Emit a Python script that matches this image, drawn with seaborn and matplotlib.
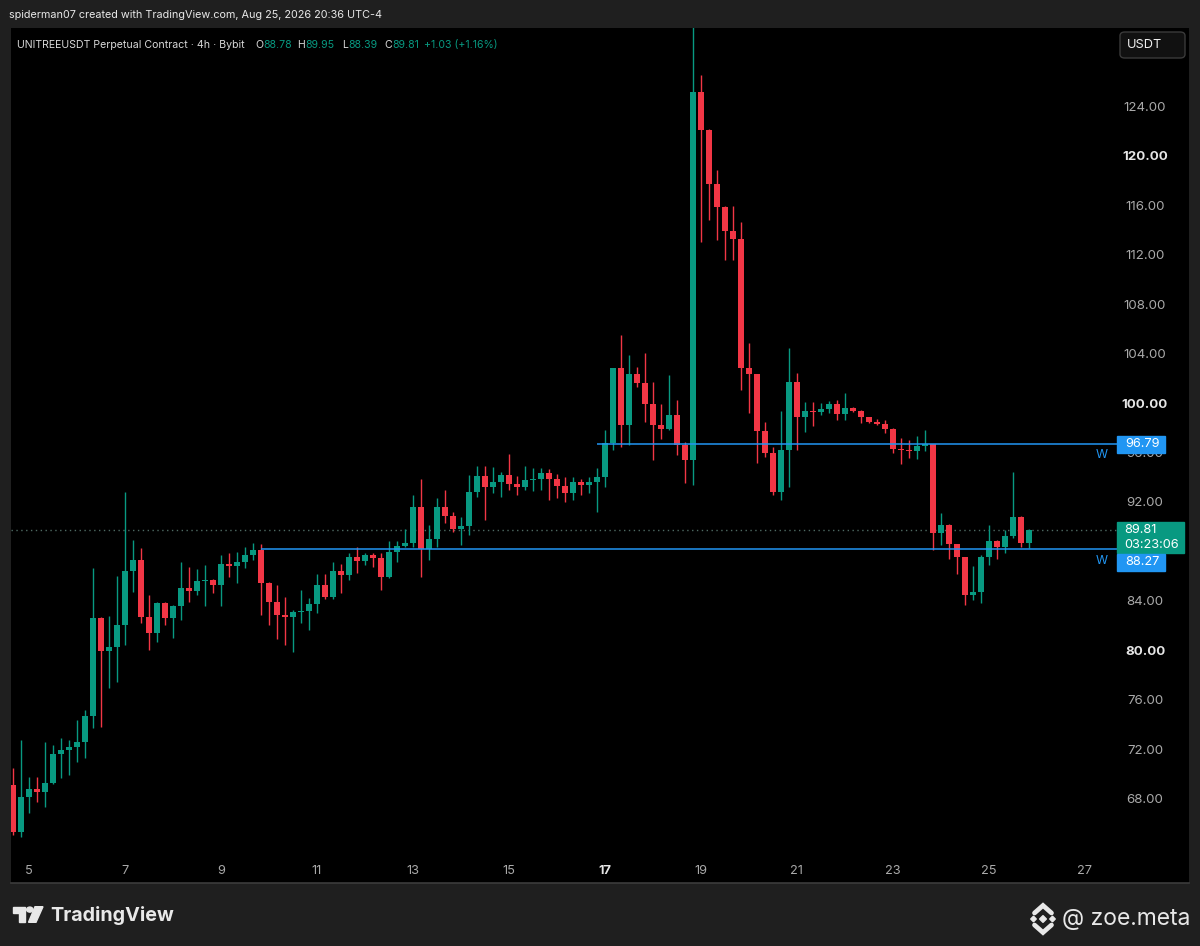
import numpy as np
import pandas as pd
import matplotlib.pyplot as plt
import seaborn as sns
from matplotlib.patches import Rectangle, FancyBboxPatch, Polygon, Circle

# 4h candles of UNITREEUSDT, bar 0 = Aug 5 00:00, first visible bar is Aug 4 16:00
first_bar = -2
opens = [69.2, 65.4, 68.26, 68.86, 68.64, 69.4, 71.72, 72.04, 72.31, 72.67,
         74.8, 82.75, 80.08, 80.35, 82.16, 86.55, 87.42, 82.78, 81.54, 83.96,
         82.7, 83.7, 85.18, 84.94, 85.72, 85.8, 85.37, 87.1, 86.95, 87.28,
         87.82, 88.23, 85.53, 84.05, 82.97, 82.8, 83.24, 83.32, 83.86, 85.4,
         84.45, 86.55, 86.21, 87.69, 87.34, 87.82, 87.55, 86.07, 88.04, 88.58,
         88.77, 91.68, 88.29, 89.1, 91.68, 90.98, 89.95, 90.17, 92.95, 94.22,
         93.3, 93.76, 94.3, 93.57, 93.35, 93.9, 94.0, 94.49, 93.98, 93.43,
         92.82, 93.7, 93.5, 93.76, 94.11, 96.86, 102.93, 98.35, 102.47, 101.77,
         100.04, 98.35, 98.0, 99.15, 96.73, 95.51, 125.32, 122.22, 117.85, 116.01,
         114.07, 113.37, 102.93, 102.47, 97.88, 96.05, 92.95, 96.32, 101.85, 98.97,
         99.5, 99.4, 99.6, 100.04, 99.24, 99.7, 99.5, 98.97, 98.56, 98.4,
         98.0, 96.38, 96.3, 96.2, 96.61, 96.78, 89.63, 90.25, 88.71, 87.64,
         84.59, 84.85, 87.69, 88.98, 88.5, 89.36, 90.93, 88.78]
highs = [70.6, 72.85, 69.88, 69.88, 72.71, 72.45, 72.99, 72.85, 74.47, 75.28,
         86.75, 82.8, 82.89, 86.13, 92.95, 89.04, 88.37, 84.59, 84.0, 84.0,
         83.8, 87.28, 86.88, 86.67, 87.02, 85.85, 87.82, 87.96, 88.1, 88.45,
         88.82, 88.72, 85.6, 85.4, 84.45, 83.4, 85.0, 84.35, 86.29, 86.29,
         87.28, 87.1, 87.96, 88.5, 88.0, 87.96, 87.96, 88.98, 88.98, 89.93,
         92.68, 93.95, 90.25, 92.46, 93.08, 91.33, 90.9, 94.3, 95.03, 95.0,
         94.92, 94.57, 96.0, 94.2, 95.0, 94.84, 94.84, 94.76, 94.38, 94.16,
         94.16, 94.0, 94.1, 94.84, 97.94, 102.95, 105.63, 104.0, 103.07, 104.2,
         101.85, 100.04, 102.39, 100.37, 97.0, 130.6, 126.67, 122.3, 118.98, 116.05,
         116.07, 114.8, 104.96, 102.5, 98.6, 96.6, 99.5, 104.55, 102.53, 100.23,
         100.23, 100.15, 100.3, 100.4, 100.96, 99.8, 99.55, 99.0, 98.8, 98.75,
         98.1, 97.27, 97.12, 97.45, 97.94, 96.8, 91.25, 90.3, 88.75, 87.7,
         86.93, 87.82, 90.25, 89.0, 89.85, 94.57, 90.95, 89.95]
lows = [65.2, 65.0, 66.92, 67.86, 67.46, 69.3, 69.75, 70.02, 71.1, 71.37,
        73.8, 73.93, 77.04, 77.57, 80.54, 84.85, 82.3, 80.14, 80.81, 82.16,
        81.08, 82.56, 84.05, 84.59, 83.7, 84.77, 83.7, 86.02, 85.53, 86.75,
        87.42, 82.97, 82.16, 81.0, 80.54, 80.0, 82.3, 81.75, 83.1, 84.24,
        84.3, 84.72, 85.8, 86.39, 87.0, 86.83, 85.0, 85.93, 87.28, 88.5,
        88.5, 86.07, 87.42, 88.5, 90.4, 89.71, 88.63, 89.44, 92.55, 90.66,
        92.8, 92.55, 93.08, 92.68, 93.08, 93.0, 93.08, 92.28, 92.42, 92.1,
        92.28, 92.68, 92.8, 91.33, 93.35, 96.32, 96.59, 96.7, 101.45, 98.61,
        95.51, 97.19, 97.94, 95.92, 93.63, 93.49, 113.18, 114.94, 113.32, 111.7,
        111.7, 101.18, 99.29, 95.25, 95.78, 92.68, 92.28, 93.35, 96.32, 97.8,
        98.26, 99.15, 99.3, 98.75, 98.75, 99.38, 98.53, 98.5, 98.35, 97.67,
        96.05, 95.19, 95.65, 95.57, 96.2, 88.23, 88.63, 87.48, 86.29, 83.78,
        84.2, 83.92, 86.99, 87.48, 87.96, 89.17, 88.5, 88.39]
closes = [65.4, 68.26, 68.86, 68.64, 69.4, 71.72, 72.04, 72.31, 72.67, 74.8,
          82.75, 80.08, 80.35, 82.16, 86.55, 87.42, 82.78, 81.54, 83.96, 82.7,
          83.7, 85.18, 84.94, 85.72, 85.8, 85.37, 87.1, 86.95, 87.28, 87.82,
          88.23, 85.53, 84.05, 82.97, 82.8, 83.24, 83.32, 83.86, 85.4, 84.45,
          86.55, 86.21, 87.69, 87.34, 87.82, 87.55, 86.07, 88.04, 88.58, 88.77,
          91.68, 88.29, 89.1, 91.68, 90.98, 89.95, 90.17, 92.95, 94.22, 93.3,
          93.76, 94.3, 93.57, 93.35, 93.9, 94.0, 94.49, 93.98, 93.43, 92.82,
          93.7, 93.5, 93.76, 94.11, 96.86, 102.93, 98.35, 102.47, 101.77, 100.04,
          98.35, 98.0, 99.15, 96.73, 95.51, 125.32, 122.22, 117.85, 116.01, 114.07,
          113.37, 102.93, 102.47, 97.88, 96.05, 92.95, 96.32, 101.85, 98.97, 99.5,
          99.4, 99.6, 100.04, 99.24, 99.7, 99.5, 98.97, 98.56, 98.4, 98.0,
          96.38, 96.3, 96.2, 96.61, 96.78, 89.63, 90.25, 88.71, 87.64, 84.59,
          84.85, 87.69, 88.98, 88.5, 89.36, 90.93, 88.78, 89.81]

day_ticks = [5, 7, 9, 11, 13, 15, 17, 19, 21, 23, 25, 27]
# 88.00 sits under the price boxes and is not shown
price_ticks = [68, 72, 76, 80, 84, 92, 96, 100, 104, 108, 112, 116, 120, 124]
bold_prices = [80, 100, 120]

# horizontal "W" levels and the bar they were drawn from
levels = [96.79, 88.27]
level_start = [71, 29]
last_price = 89.81
countdown = "03:23:06"

GREEN = "#089981"
RED = "#f23645"
BLUE = "#2196f3"
BG = "#1f1f1f"

sns.set_theme(style="dark", rc={"axes.facecolor": "black", "figure.facecolor": BG})
plt.rcParams['font.family'] = ['Inter', 'DejaVu Sans']

df = pd.DataFrame({"open": opens, "high": highs, "low": lows, "close": closes})
df["bar"] = np.arange(len(df)) + first_bar
df["up"] = df["close"] >= df["open"]
colors = np.where(df["up"], GREEN, RED)

W, H = 1200, 946
fig = plt.figure(figsize=(12, 9.46), dpi=100)
ax = fig.add_axes([11 / W, 63 / H, 1178 / W, 855 / H])
ax.set_facecolor("black")

def bar_of(px):
    return (px - 28.7) / 8

def axx(px):
    return (px - 11) / 1178

def fx(px):
    return px / W

def fy(py):
    return 1 - py / H

ax.set_xlim(bar_of(11), bar_of(1189))
ax.set_ylim(61.28, 130.47)

# candles
ax.vlines(df["bar"], df["low"], df["high"], colors=colors, linewidth=1.0, zorder=3)
body = np.maximum((df["close"] - df["open"]).abs(), 0.09)
ax.bar(df["bar"], body, bottom=np.minimum(df["open"], df["close"]), width=0.72,
       color=colors, linewidth=0, zorder=4)

# last price dotted line
ax.axhline(last_price, xmin=0, xmax=axx(1117), color="#4f6b64", lw=1,
           ls=(0, (1, 2.5)), zorder=2)

# W levels
for lv, st in zip(levels, level_start):
    ax.hlines(lv, st, bar_of(1117), color=BLUE, lw=1.1, zorder=5)

yt = ax.get_yaxis_transform()
xt = ax.get_xaxis_transform()

# price scale
for p in price_ticks:
    bold = p in bold_prices
    ax.text(axx(1145), p, f"{p:.2f}", transform=yt, ha="center", va="center",
            fontsize=9.6, color="#e6e6e6" if bold else "#a9a9a9",
            fontweight="bold" if bold else "normal", zorder=6)

# date scale
for d in day_ticks:
    ax.text((d - 5) * 6, 0.0144, str(d), transform=xt, ha="center", va="center",
            fontsize=9.2, color="#e6e6e6" if d == 17 else "#a9a9a9",
            fontweight="bold" if d == 17 else "normal")

# price boxes
ax.add_patch(Rectangle((axx(1117), 96.08), axx(1165) - axx(1117), 1.38,
                       transform=yt, color=BLUE, zorder=7, clip_on=False))
ax.text(axx(1142), levels[0], f"{levels[0]:.2f}", transform=yt, ha="center",
        va="center", fontsize=9.2, color="white", zorder=8)
ax.add_patch(Rectangle((axx(1117), 87.96), axx(1184) - axx(1117), 2.51,
                       transform=yt, color=GREEN, zorder=7, clip_on=False))
ax.text(axx(1124), 89.81, f"{last_price:.2f}", transform=yt, ha="left",
        va="center", fontsize=9.2, color="white", zorder=8)
ax.text(axx(1124), 88.62, countdown, transform=yt, ha="left",
        va="center", fontsize=9.2, color="white", zorder=8)
ax.add_patch(Rectangle((axx(1117), 86.55), axx(1165) - axx(1117), 1.33,
                       transform=yt, color=BLUE, zorder=7, clip_on=False))
ax.text(axx(1142), 87.22, f"{levels[1]:.2f}", transform=yt, ha="center",
        va="center", fontsize=9.2, color="white", zorder=8)
ax.text(axx(1102), 95.92, "W", transform=yt, ha="center", va="center",
        fontsize=8.8, color=BLUE, zorder=8)
ax.text(axx(1102), 87.34, "W", transform=yt, ha="center", va="center",
        fontsize=8.8, color=BLUE, zorder=8)

ax.set_xticks([])
ax.set_yticks([])
for s in ["top", "left", "right"]:
    ax.spines[s].set_visible(False)
ax.spines["bottom"].set_color("#3c3c3c")
ax.spines["bottom"].set_linewidth(1.2)

# header + legend
fig.text(fx(9), fy(15), "spiderman07 created with TradingView.com, Aug 25, 2026 20:36 UTC-4",
         ha="left", va="center", fontsize=7.8, color="#e8e8e8")
fig.text(fx(17), fy(45), "UNITREEUSDT Perpetual Contract · 4h · Bybit",
         ha="left", va="center", fontsize=7.6, color="#d8d8d8")
o, h, l, c = opens[-1], highs[-1], lows[-1], closes[-1]
chg = c - closes[-2]
legend_parts = [(255, "O", "#d8d8d8"), (263.5, f"{o:.2f}", GREEN),
                (297.5, "H", "#d8d8d8"), (305.5, f"{h:.2f}", GREEN),
                (342, "L", "#d8d8d8"), (348.5, f"{l:.2f}", GREEN),
                (384, "C", "#d8d8d8"), (392.5, f"{c:.2f}", GREEN),
                (424, f"+{chg:.2f} (+{chg / closes[-2] * 100:.2f}%)", GREEN)]
for x, s, col in legend_parts:
    fig.text(fx(x), fy(45), s, ha="left", va="center", fontsize=7.6, color=col)

# USDT box
fig.patches.append(FancyBboxPatch((fx(1120), fy(58)), fx(1185) - fx(1120), fy(32) - fy(58),
                                  boxstyle="round,pad=0,rounding_size=0.004",
                                  transform=fig.transFigure, facecolor="#111111",
                                  edgecolor="#3a3a3a", lw=1))
fig.text(fx(1145), fy(45), "USDT", ha="center", va="center", fontsize=9.2, color="#f0f0f0")

# footer: TradingView logo
LOGO = "#e8e8e8"
fig.patches.append(Polygon([(fx(12.7), fy(906.7)), (fx(25), fy(906.7)), (fx(25), fy(922.3)),
                            (fx(19), fy(922.3)), (fx(19), fy(912.7)), (fx(12.7), fy(912.7))],
                           closed=True, transform=fig.transFigure, color=LOGO))
fig.patches.append(Circle((fx(29.8), fy(909.6)), 3.2 / W, transform=fig.transFigure, color=LOGO))
fig.patches.append(Polygon([(fx(35), fy(906.7)), (fx(43), fy(906.7)), (fx(36), fy(922.3)),
                            (fx(28.5), fy(922.3))],
                           closed=True, transform=fig.transFigure, color=LOGO))
fig.text(fx(50), fy(915), "TradingView", ha="left", va="center", fontsize=14.2,
         fontweight="bold", color=LOGO)

# footer: watermark
cx, cy = 1043, 919
def diamond(x, y, r):
    return Polygon([(fx(x), fy(y - r)), (fx(x + r), fy(y)), (fx(x), fy(y + r)), (fx(x - r), fy(y))],
                   closed=True, transform=fig.transFigure, color=LOGO)
fig.patches.append(diamond(cx, cy, 3.4))
fig.patches.append(diamond(cx - 9.5, cy, 2.8))
fig.patches.append(diamond(cx + 9.5, cy, 2.8))
fig.lines.append(plt.Line2D([fx(cx - 8.5), fx(cx), fx(cx + 8.5)], [fy(cy - 6), fy(cy - 13.5), fy(cy - 6)],
                            transform=fig.transFigure, color=LOGO, lw=3.4, solid_joinstyle="miter"))
fig.lines.append(plt.Line2D([fx(cx - 8.5), fx(cx), fx(cx + 8.5)], [fy(cy + 6), fy(cy + 13.5), fy(cy + 6)],
                            transform=fig.transFigure, color=LOGO, lw=3.4, solid_joinstyle="miter"))
fig.text(fx(1190), fy(919), "@ zoe.meta", ha="right", va="center", fontsize=16.5, color=LOGO)

fig.savefig("out.png", dpi=100, facecolor=BG)
